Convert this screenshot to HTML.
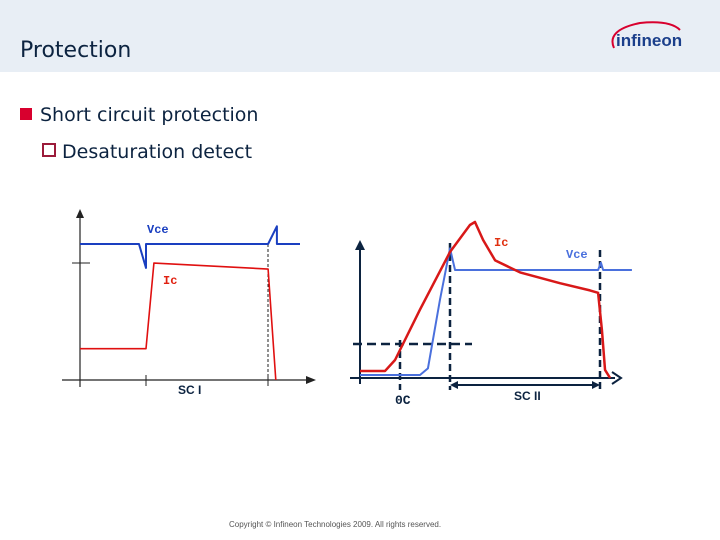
<!DOCTYPE html>
<html><head><meta charset="utf-8"><style>
body{margin:0;width:720px;height:540px;overflow:hidden;background:#fff;font-family:"Liberation Sans","DejaVu Sans",sans-serif;position:relative}
.hdr{position:absolute;left:0;top:0;width:720px;height:72px;background:#e8eef5}
.title{position:absolute;left:20px;top:38px;font-family:"DejaVu Sans",sans-serif;font-size:22px;color:#0c2340}
.b1{position:absolute;left:20px;top:104px;font-family:"DejaVu Sans",sans-serif;font-size:19px;color:#0c2340}
.b2{position:absolute;left:42px;top:141px;font-family:"DejaVu Sans",sans-serif;font-size:19px;color:#0c2340}
.sq{display:inline-block;width:12px;height:12px;background:#d8002e;margin-right:8px;vertical-align:1px}
.sq2{display:inline-block;width:10px;height:10px;border:2px solid #9b1b3a;margin-right:6px;vertical-align:1px}
.copy{position:absolute;left:229px;top:520px;font-size:8px;color:#555}
</style></head><body>
<div class="hdr"></div>
<div class="title">Protection</div>
<svg style="position:absolute;left:600px;top:18px" width="90" height="40">
<path d="M14 30 Q6 12 40 5 Q70 2 80 12" stroke="#d8002e" stroke-width="2" fill="none"/>
<text x="16" y="28" font-family="Liberation Sans,sans-serif" font-size="17" fill="#1b3f8b" font-weight="bold">infineon</text></svg>
<div class="b1"><span class="sq"></span>Short circuit protection</div>
<div class="b2"><span class="sq2"></span>Desaturation detect</div>
<svg id="ch" style="position:absolute;left:0;top:0" width="720" height="540"></svg>
<div class="copy">Copyright © Infineon Technologies 2009. All rights reserved.</div>
<script>
// Chart 1 (SC I)
const c1VceT=[0,2.68,3.0,3.0,8.55,8.95,8.95,10];
const c1VceV=[100,100,82.4,100,100,113,100,100];
const c1IcT=[0,3.0,3.36,8.55,8.9];
const c1IcV=[23,23,86,81.6,0];
// Chart 2 (OC / SC II)
const c2VceT=[0,2.5,2.83,3.33,3.75,3.96,9.92,10.04,10.13,11.33];
const c2VceV=[2.5,2.5,8,65,108,90,90,96,90,90];
const c2IcT=[0,1.04,1.46,2.5,3.75,4.58,4.79,5.13,5.63,6.67,8.33,9.58,9.92,10.08,10.21,10.42];
const c2IcV=[5.8,5.8,15,57,105,127.5,130,115,98,88,79,73,71,40,6.7,0];
const x1=t=>80+t*22, y1=v=>380-v*1.36;
const x2=t=>360+t*24, y2=v=>378-v*1.2;
const svg=document.getElementById('ch');const NS='http://www.w3.org/2000/svg';
function el(tag,a,name){const e=document.createElementNS(NS,tag);for(const k in a)e.setAttribute(k,a[k]);


svg.appendChild(e);return e;}
function line(x1_,y1_,x2_,y2_,c,w,d,name){const a={x1:x1_,y1:y1_,x2:x2_,y2:y2_,stroke:c,'stroke-width':w};if(d)a['stroke-dasharray']=d;return el('line',a,name);}
function poly(T,V,xs,ys,c,w,name){el('polyline',{points:T.map((t,i)=>xs(t)+','+ys(V[i])).join(' '),fill:'none',stroke:c,'stroke-width':w,'stroke-linejoin':'round'},name);}
function txt(x,y,s,c,sz,name,fam){const t=el('text',{x:x,y:y,fill:c,'font-size':sz,'font-weight':'bold','font-family':fam||'Liberation Mono,monospace'},name);t.textContent=s;}
// chart1 axes
line(62,380,308,380,'#222',1.2,null,'c1-x-axis');el('polygon',{points:'316,380 306,376 306,384',fill:'#222'},'c1-x-arrow');
line(80,218,80,387,'#222',1.2,null,'c1-y-axis');el('polygon',{points:'80,209 76,218 84,218',fill:'#222'},'c1-y-arrow');
line(72,263,90,263,'#222',1,null,'c1-y-tick');
line(146,375,146,386,'#222',1,null,'c1-x-tick-start');line(268,375,268,386,'#222',1,null,'c1-x-tick-end');
line(268,244,268,380,'#222',1,'3,2','c1-dash-marker');
poly(c1IcT,c1IcV,x1,y1,'#e01010',1.6,'c1-ic-line');
poly(c1VceT,c1VceV,x1,y1,'#1a3fc0',2,'c1-vce-line');
txt(147,233,'Vce','#1a3fc0',12,'c1-vce-label');txt(163,284,'Ic','#e02010',12,'c1-ic-label');
txt(178,394,'SC I','#0c2340',12,'c1-sc1-label','Liberation Sans,sans-serif');
// chart2 axes
line(350,378,615,378,'#0c2340',2,null,'c2-x-axis');el('polyline',{points:'612,372 621,378 612,384',fill:'none',stroke:'#0c2340','stroke-width':2},'c2-x-arrow');
line(360,244,360,384,'#0c2340',2,null,'c2-y-axis');el('polygon',{points:'360,240 355,250 365,250',fill:'#0c2340'},'c2-y-arrow');
line(353,344,472,344,'#0c2340',2.5,'9,5','c2-oc-threshold');
line(400,340,400,390,'#0c2340',2.5,'7,4','c2-oc-marker');
line(450,243,450,390,'#0c2340',2.5,'7,4','c2-sc2-start');
line(600,250,600,390,'#0c2340',2.5,'7,4','c2-sc2-end');
line(456,385,594,385,'#0c2340',2,null,'c2-sc2-span');
el('polygon',{points:'450,385 458,381 458,389',fill:'#0c2340'},'c2-span-arrow-left');
el('polygon',{points:'600,385 592,381 592,389',fill:'#0c2340'},'c2-span-arrow-right');
poly(c2VceT,c2VceV,x2,y2,'#4a70dd',2,'c2-vce-line');
poly(c2IcT,c2IcV,x2,y2,'#d81818',2.5,'c2-ic-line');
txt(494,246,'Ic','#e03010',12,'c2-ic-label');txt(566,258,'Vce','#4a70dd',12,'c2-vce-label');
txt(395,404,'0C','#0c2340',13,'c2-oc-label');txt(514,400,'SC II','#0c2340',12,'c2-sc2-label','Liberation Sans,sans-serif');
</script>
</body></html>
